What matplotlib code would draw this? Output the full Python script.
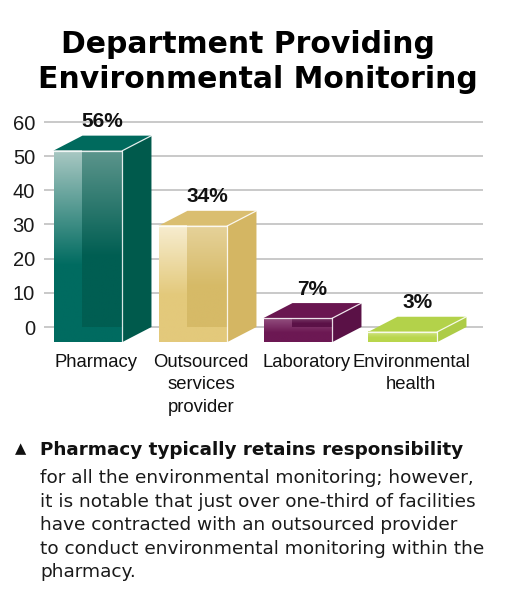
import numpy as np
import matplotlib
matplotlib.use("Agg")
import matplotlib.pyplot as plt
from matplotlib.patches import Polygon
from matplotlib.colors import to_rgb

# ---- data ----
categories = ["Pharmacy", "Outsourced\nservices\nprovider", "Laboratory", "Environmental\nhealth"]
values = [56, 34, 7, 3]
value_labels = ["56%", "34%", "7%", "3%"]
yticks = [0, 10, 20, 30, 40, 50, 60]
title_lines = ["Department Providing", "Environmental Monitoring"]
note_bold = "Pharmacy typically retains responsibility"
note_lines = ["for all the environmental monitoring; however,",
              "it is notable that just over one-third of facilities",
              "have contracted with an outsourced provider",
              "to conduct environmental monitoring within the",
              "pharmacy."]

# ---- styles ----
styles = [
    dict(ft="#A9C8C3", fb="#006B60", ot="#5C958C", ob="#005E52", side="#005A4C", top="#006A5D"),
    dict(ft="#F7EDD0", fb="#E3C97B", ot="#E6D29A", ob="#D6BA67", side="#D4B663", top="#DABE70"),
    dict(ft="#93507F", fb="#6C1853", ot="#7A3A68", ob="#5B1147", side="#5A1146", top="#691650"),
    dict(ft="#D3E58A", fb="#B9D64C", ot="#BEDA5E", ob="#A8C944", side="#ADCC47", top="#B3D24A"),
]

plt.rcParams["font.family"] = ["Liberation Sans", "DejaVu Sans"]

W, H = 506, 600
fig = plt.figure(figsize=(W / 100, H / 100), dpi=100)
ax = fig.add_axes([44 / W, 1 - 347.5 / H, 439 / W, (347.5 - 108.3) / H])
ax.set_axis_off()

XL, XR = -0.557, 3.624
YB, YT = -6, 64
w, dx, dy = 0.657, 0.276, 4.39

for t in yticks:
    ax.plot([XL, XR], [t, t], color="#C9C9C9", lw=1.4, zorder=0, solid_capstyle="butt")
    ax.text(XL - 0.085, t - 0.6, str(t), ha="right", va="center", fontsize=14.5, color="#1a1a1a")


def grad(top, bot, n=100, knee=0.6):
    a, b = np.array(to_rgb(top)), np.array(to_rgb(bot))
    t = np.clip(np.linspace(0, 1, n) / knee, 0, 1)[:, None]
    return (a + (b - a) * t)[:, None, :]


for i, (v, st) in enumerate(zip(values, styles)):
    fl = i - (w + dx) / 2
    fr = fl + w
    # side face
    ax.add_patch(Polygon([(fr, -dy), (fr, v - dy), (fr + dx, v), (fr + dx, 0)],
                         closed=True, facecolor=st["side"], edgecolor="none", zorder=2))
    # top face
    ax.add_patch(Polygon([(fl, v - dy), (fl + dx, v), (fr + dx, v), (fr, v - dy)],
                         closed=True, facecolor=st["top"], edgecolor="none", zorder=2))
    # front face
    ax.imshow(grad(st["ft"], st["fb"]), extent=[fl, fr, -dy, v - dy], aspect="auto",
              origin="upper", interpolation="bilinear", zorder=3)
    # back seen through front
    if v - dy > 0:
        ax.imshow(grad(st["ot"], st["ob"]), extent=[fl + dx, fr, 0, v - dy], aspect="auto",
                  origin="upper", interpolation="bilinear", zorder=3.5)
    # highlight edges
    ax.plot([fl, fr, fr], [v - dy, v - dy, -dy], color="white", lw=0.9, alpha=0.85, zorder=4)
    ax.plot([fr, fr + dx], [v - dy, v], color="white", lw=0.9, alpha=0.85, zorder=4)
    # value label
    ax.text(i, v + 2.5, value_labels[i], ha="center", va="baseline", fontsize=15,
            fontweight="bold", color="#111111", zorder=5)
    # category label
    ax.text(i - 0.06, -7.9, categories[i], ha="center", va="top", fontsize=13.3,
            linespacing=1.42, color="#111111", clip_on=False)

ax.set_xlim(XL, XR)
ax.set_ylim(YB, YT)

# title
fig.text(248 / W, 1 - 53 / H, title_lines[0], ha="center", va="baseline",
         fontsize=21.5, fontweight="bold", family=["DejaVu Sans"])
fig.text(258 / W, 1 - 88 / H, title_lines[1], ha="center", va="baseline",
         fontsize=21.5, fontweight="bold", family=["DejaVu Sans"])

# note
fig.text(15 / W, 1 - 453 / H, "\u25B2", ha="left", va="baseline", fontsize=10.5,
         family=["DejaVu Sans"], color="#111111")
fig.text(40 / W, 1 - 455 / H, note_bold, ha="left", va="baseline", fontsize=13.2,
         fontweight="bold", family=["DejaVu Sans"], color="#111111")
for k, line in enumerate(note_lines):
    fig.text(40 / W, 1 - (483 + 23.6 * k) / H, line, ha="left", va="baseline", fontsize=13.3,
             family=["DejaVu Sans"], color="#1a1a1a")

fig.savefig("out.png", dpi=100)
